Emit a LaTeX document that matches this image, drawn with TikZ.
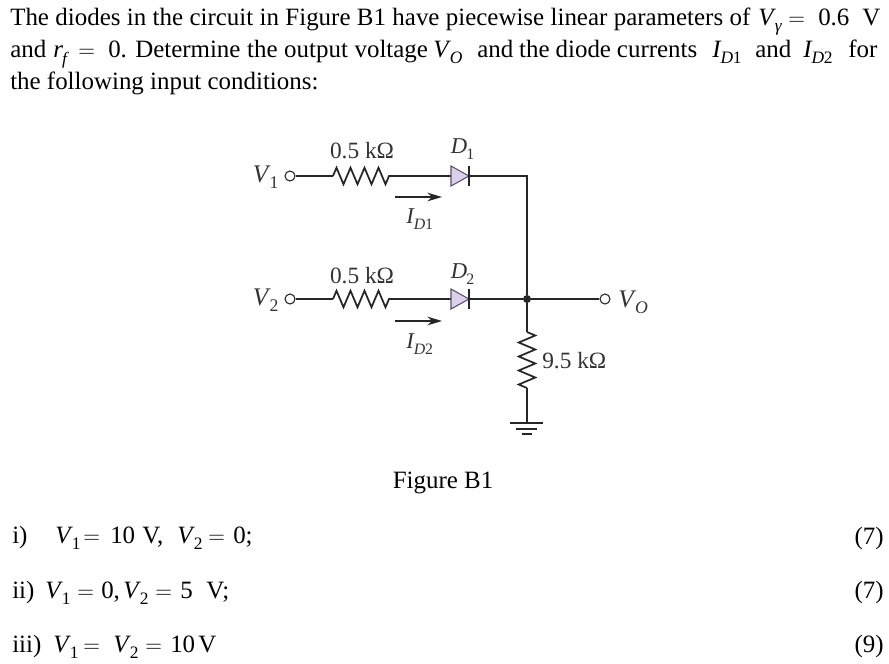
\documentclass[tikz,border=0pt]{standalone}
\usepackage{fontspec}
\setmainfont{Liberation Serif}
\usetikzlibrary{arrows.meta,decorations.pathmorphing}
\newcommand{\lowsub}[1]{\kern-0.04em\raisebox{-0.12em}{\textsubscript{#1}}}
\newcommand{\ital}[2]{\textit{#1}\lowsub{#2}}
\newcommand{\italsub}[2]{\textit{#1}\lowsub{\textit{#2}}}
\definecolor{diodefill}{HTML}{DCD0EC}
\definecolor{diodeline}{HTML}{5A5070}
\tikzset{
  wire/.style={line width=1.1pt,color=black!85},
  resistor/.style={wire,line width=1.3pt,decorate,decoration={zigzag,segment length=10.5pt,amplitude=6.2pt}},
  terminal/.style={circle,draw=black!85,line width=0.8pt,fill=white,inner sep=0pt,minimum size=7.5pt},
  textline/.style={anchor=base west,inner sep=0pt,font=\fontsize{18.7}{18.7}\selectfont},
  partmark/.style={anchor=base east,inner sep=0pt,font=\fontsize{18.7}{18.7}\selectfont},
  circuitlabel/.style={inner sep=0pt,anchor=base,text=black!80,font=\fontsize{17.5}{17.5}\selectfont},
  letterlabel/.style={circuitlabel,font=\fontsize{17}{17}\selectfont},
}
\begin{document}
\begin{tikzpicture}[x=0.75pt,y=-0.75pt]
\useasboundingbox (0,0) rectangle (889,664);
% Enunciado
\node[textline] (line1) at (10,25) {\hbox to 555pt{The diodes in the circuit in Figure B1 have piecewise linear parameters of}};
\foreach \x/\t/\nam in {758/{\textit{V}\lowsub{\textit{γ}}}/gam,788/{$=$}/gameq,818/{0.6}/gamval,862/{V}/gamunit} {
  \node[textline] (\nam) at (\x,25) {\t};
}
\foreach \x/\t/\nam in {10/{and}/a,53/{\textit{r}\lowsub{\textit{f}}}/b,78/{$=$}/c,108/{0.}/d,433/{\italsub{V}{O}}/f,477/{\hbox to 165pt{and the diode currents}}/g,712/{\italsub{I}{D}\lowsub{1}}/h,755/{and}/i,803/{\italsub{I}{D}\lowsub{2}}/j,848/{for}/k} {
  \node[textline] (lin\nam) at (\x,57) {\t};
}
\node[textline] (line2) at (135,57) {\hbox to 219.5pt{Determine the output voltage}};
\node[textline] (line3) at (10,89) {the following input conditions:};
% Ramas con diodo
\foreach \y/\n/\yres/\ydio/\ycur/\ylab in {176/1/158/153/197/223,299/2/283/278/321/348} {
  \node[terminal] (in\n) at (290,\y) {};
  \coordinate (ra\n) at (333,\y);
  \coordinate (rb\n) at (390,\y);
  \coordinate (da\n) at (451,\y);
  \coordinate (dk\n) at (469,\y);
  \draw[wire] (in\n) -- (ra\n);
  \draw[resistor] (ra\n) -- (rb\n);
  \draw[wire] (rb\n) -- (da\n);
  \draw[draw=diodeline,fill=diodefill,line width=0.8pt] (451,\y-10) -- (dk\n) -- (451,\y+10) -- cycle;
  \draw[wire,line width=0.8pt] (469,\y-10) -- (469,\y+10);
  % Corriente
  \coordinate (ia\n) at (395,\ycur);
  \coordinate (ib\n) at (442,\ycur);
  \draw[wire,line width=1pt,-{Stealth[length=11pt,width=6.5pt]}] (ia\n) -- (ib\n);
  \node[circuitlabel] (res\n) at (362,\yres) {0.5 kΩ};
  \node[letterlabel] (dlab\n) at (463,\ydio) {\ital{D}{\n}};
  \node[circuitlabel,font=\fontsize{19}{19}\selectfont] (vlab\n) at (266,\y+6) {\ital{V}{\n}};
  \node[letterlabel] (ilab\n) at (420,\ylab) {\italsub{I}{D}\lowsub{\n}};
}
% Union y salida
\coordinate (top) at (527,176);
\node[circle,fill=black!85,inner sep=0pt,minimum size=6pt] (join) at (527,299) {};
\node[terminal] (out) at (605,299) {};
\coordinate (rtop) at (527,332);
\coordinate (rbot) at (527,388);
\coordinate (gnd) at (527,423);
\draw[wire] (dk1) -- (top) -- (join);
\draw[wire] (dk2) -- (join) -- (out);
\draw[wire] (join) -- (rtop);
\draw[resistor] (rtop) -- (rbot);
\draw[wire] (rbot) -- (gnd);
% Tierra
\draw[wire] (510,423) -- (543,423);
\draw[wire,line width=1.6pt] (516,429) -- (537,429);
\draw[wire,line width=1.8pt] (522,434) -- (532,434);
\node[circuitlabel,anchor=base west] (rout) at (542,368) {9.5 kΩ};
\node[circuitlabel,anchor=base west,font=\fontsize{19}{19}\selectfont] (vout) at (618,307) {\italsub{V}{O}};
\node[textline,anchor=base] (figname) at (443,488) {Figure B1};
% Casos
\foreach \x/\t/\nam in {12/{i)}/a,55/{\ital{V}{1}}/b,83/{$=$}/c,110/{10}/d,142/{V,}/e,177/{\ital{V}{2}}/f,208/{$=$}/g,233/{0;}/h} {
  \node[textline] (casei\nam) at (\x,543) {\t};
}
\foreach \x/\t/\nam in {12/{ii)}/a,45/{\ital{V}{1}}/b,77/{$=$}/c,101/{0,}/d,123/{\ital{V}{2}}/e,155/{$=$}/f,180/{5}/g,206/{V;}/h} {
  \node[textline] (caseii\nam) at (\x,598) {\t};
}
\foreach \x/\t/\nam in {12/{iii)}/a,53/{\ital{V}{1}}/b,83/{$=$}/c,113/{\ital{V}{2}}/d,145/{$=$}/e,170/{10}/f,198/{V}/g} {
  \node[textline] (caseiii\nam) at (\x,652) {\t};
}
\foreach \y/\m/\nam in {544/7/ma,598/7/mb,652/9/mc} {
  \node[partmark] (\nam) at (884,\y) {(\m)};
}
\end{tikzpicture}
\end{document}
